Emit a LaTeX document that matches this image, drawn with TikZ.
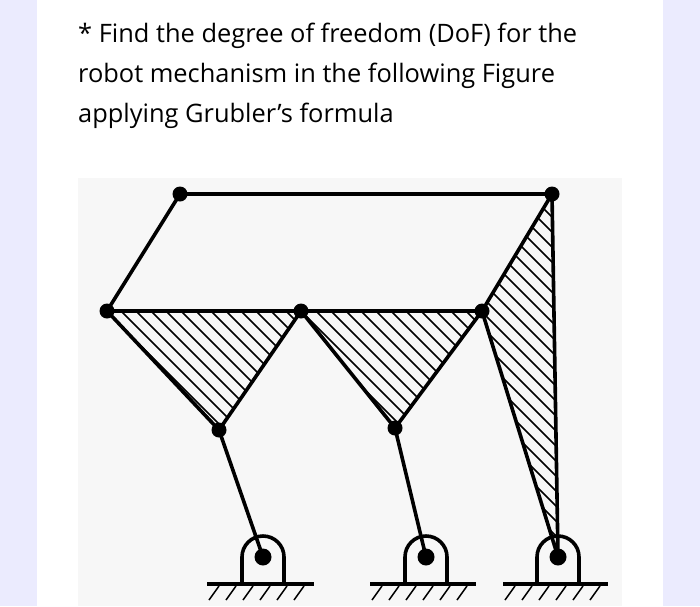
\documentclass[tikz,border=0pt]{standalone}
\usepackage{fontspec}
\setmainfont{Open Sans}
\begin{document}
\begin{tikzpicture}[x=1pt,y=-1pt,
  lnk/.style={line width=3.6pt,line cap=round,line join=round},
  jnt/.style={circle,fill=black,inner sep=0pt,minimum size=15pt},
  hat/.style={line width=1.5pt},
  txt/.style={anchor=base west,inner sep=0pt,font=\fontsize{25.4pt}{29pt}\selectfont}]
\useasboundingbox (0,0) rectangle (700,606);
\fill[black!3!blue!8!white] (0,0) rectangle (700,606);
\fill[white] (37,0) rectangle (663,606);
\fill[black!3] (78,178) rectangle (622,606);
\node[txt] (t1) at (78,42) {* Find the degree of freedom (DoF) for the};
\node[txt] (t2) at (78,82) {robot mechanism in the following Figure};
\node[txt] (t3) at (78,122) {applying Grubler’s formula};
\coordinate (A) at (180,194); \coordinate (B) at (552,194);
\coordinate (C) at (107,311); \coordinate (D) at (301,311);
\coordinate (E) at (482,311); \coordinate (F) at (219,430);
\coordinate (G) at (395,428);
\coordinate (P1) at (263,557); \coordinate (P2) at (426,557); \coordinate (P3) at (558,557);
% hatching
\foreach \tri in {{(C)--(D)--(F)--cycle},{(D)--(E)--(G)--cycle},{(B)--(E)--(P3)--cycle}}{
  \begin{scope}
    \expandafter\clip\tri;
    \foreach \k in {-600,-585,...,700}{\draw[hat] (\k,100) -- ++(500,500);}
  \end{scope}}
\draw[lnk] (C)--(A)--(B)--(P3)--(E)--cycle;
\draw[lnk] (E)--(B);
\draw[lnk] (C)--(D)--(E);
\draw[lnk] (C)--(F)--(D)--(G)--(E);
\draw[lnk] (F)--(P1); \draw[lnk] (G)--(P2);
% supports
\foreach \p/\gl/\gr in {P1/207/314,P2/370/476,P3/503/608}{
  \draw[lnk,line cap=butt] ([xshift=-21pt]\p|-0,584) -- ([xshift=-21pt]\p) arc[start angle=180,end angle=0,radius=21pt] -- ([xshift=21pt]\p|-0,584);
  \draw[line width=3.6pt] (\gl,584) -- (\gr,584);
  \foreach \i in {0,...,5}{\draw[line width=1.5pt] (\gl+12+\i*17,586) -- ++(-10,14);}
  \node[jnt,minimum size=17pt] (n\p) at (\p) {};
}
\foreach \j in {A,B,C,D,E,F,G}{\node[jnt] (n\j) at (\j) {};}
\end{tikzpicture}
\end{document}
